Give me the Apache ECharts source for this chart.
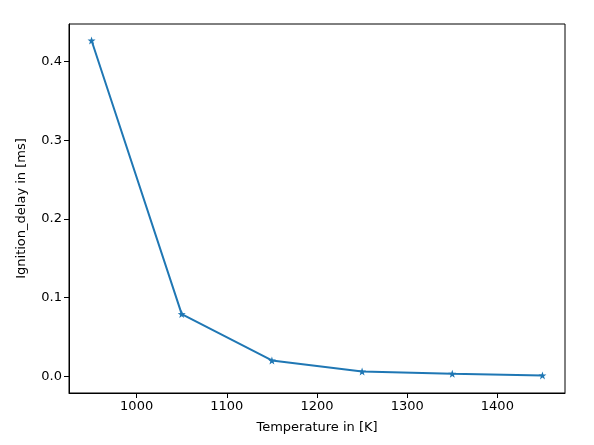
<!DOCTYPE html>
<html>
<head>
<meta charset="utf-8">
<script src="https://cdn.jsdelivr.net/npm/echarts@6/dist/echarts.min.js"></script>
<style>html,body{margin:0;padding:0;background:#fff}#c{width:594px;height:445px}</style>
</head>
<body>
<div id="c"></div>
<script>
var temperatures = [950, 1050, 1150, 1250, 1350, 1450];
var delays = [0.427, 0.079, 0.020, 0.006, 0.003, 0.001];
var xTicks = [1000, 1100, 1200, 1300, 1400];
var yTicks = [0.0, 0.1, 0.2, 0.3, 0.4];

var star = 'path://M0,-10L2.35,-3.24L9.51,-3.09L3.8,1.24L5.88,8.09L0,4L-5.88,8.09L-3.8,1.24L-9.51,-3.09L-2.35,-3.24Z';
var font = 'DejaVu Sans';

var chart = echarts.init(document.getElementById('c'), null, {renderer: 'canvas'});
chart.setOption({
  animation: false,
  grid: {left: 69, right: 29, top: 24, bottom: 52, show: true, borderColor: '#000', borderWidth: 1},
  xAxis: {
    type: 'value', min: 925, max: 1475,
    name: 'Temperature in [K]', nameLocation: 'middle', nameGap: 28,
    nameTextStyle: {fontFamily: font, fontSize: 13, color: '#000'},
    axisLine: {show: true, onZero: false, lineStyle: {color: '#000'}},
    axisTick: {show: true, length: 5, customValues: xTicks, lineStyle: {color: '#000'}},
    axisLabel: {customValues: xTicks, fontFamily: font, fontSize: 13, color: '#000', margin: 7,
      formatter: function (v) { return String(v); }},
    splitLine: {show: false}
  },
  yAxis: {
    type: 'value', min: -0.0214, max: 0.448,
    name: 'Ignition_delay in [ms]', nameLocation: 'middle', nameGap: 41,
    nameTextStyle: {fontFamily: font, fontSize: 13, color: '#000'},
    axisLine: {show: true, onZero: false, lineStyle: {color: '#000'}},
    axisTick: {show: true, length: 5, customValues: yTicks, lineStyle: {color: '#000'}},
    axisLabel: {customValues: yTicks, fontFamily: font, fontSize: 13, color: '#000', margin: 7,
      formatter: function (v) { return v.toFixed(1); }},
    splitLine: {show: false}
  },
  series: [{
    type: 'line',
    data: temperatures.map(function (t, i) { return [t, delays[i]]; }),
    symbol: star, symbolSize: 8, showAllSymbol: true,
    lineStyle: {color: '#1f77b4', width: 2},
    itemStyle: {color: '#1f77b4'}
  }]
});
</script>
</body>
</html>
